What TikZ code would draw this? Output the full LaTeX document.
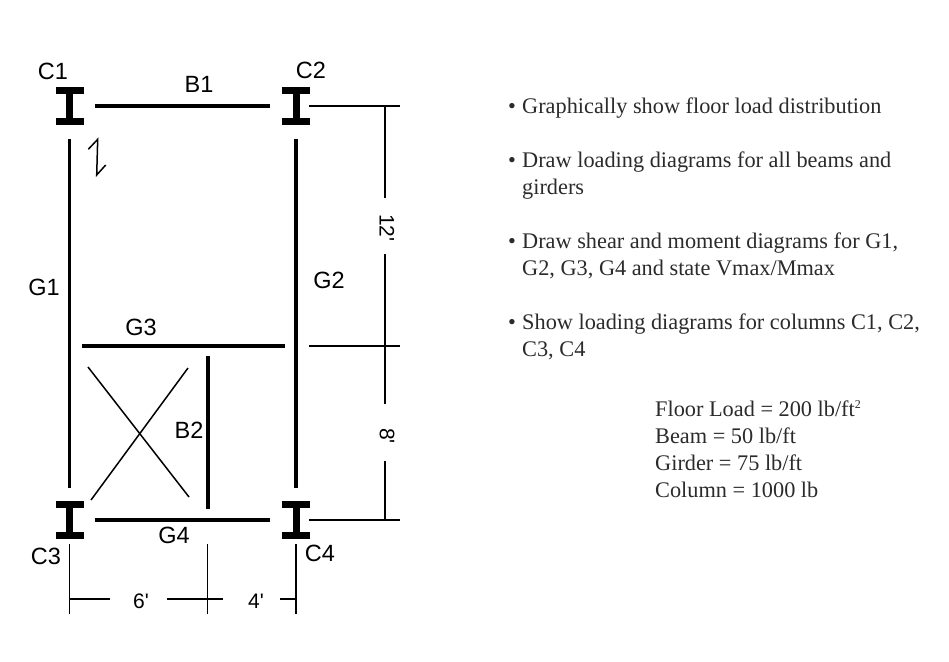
\documentclass[tikz,border=0pt]{standalone}
\usepackage{fontspec}
\setmainfont{Liberation Serif}
\newfontfamily\labelfont{Liberation Sans}
\usepackage{xcolor}
\definecolor{notegray}{HTML}{2B2B2B}
\tikzset{%
	member/.style={line width=3.6pt, black},
	thinline/.style={line width=1.2pt, black},
	planlabel/.style={font=\labelfont\fontsize{23.5}{23.5}\selectfont, inner sep=0pt},
	dimlabel/.style={font=\labelfont\fontsize{21}{21}\selectfont, inner sep=0pt},
	note/.style={
		anchor=base west,
		inner sep=0pt,
		text=notegray,
		font=\fontsize{22.3}{27}\selectfont
	},
	ibeam/.pic={
		\fill[black] (-14,-19) rectangle (14,-12);
		\fill[black] (-14,12) rectangle (14,19);
		\fill[black] (-3.5,-12) rectangle (3.5,12);
	},
}
\begin{document}
\begin{tikzpicture}[x=1pt,y=-1pt]
			\useasboundingbox[fill=white] (0,0) rectangle (949,661);
			
			% Columns
			\coordinate (c1) at (69.5,106);
			\coordinate (c2) at (296,106);
			\coordinate (c3) at (69.5,520);
			\coordinate (c4) at (296,520);
			\pic at (c1) {ibeam};
			\pic at (c2) {ibeam};
			\pic at (c3) {ibeam};
			\pic at (c4) {ibeam};
			
			% Beams and girders
			\draw[member] ([xshift=25]c1) -- ([xshift=-26]c2);
			\draw[member] ([xshift=25]c3) -- ([xshift=-26]c4);
			\draw[member] ([yshift=-33]c1) -- ([yshift=32]c3);
			\draw[member] ([yshift=-33]c2) -- ([yshift=32]c4);
			\coordinate (g3a) at (82,346);
			\coordinate (g3b) at (285,346);
			\draw[member] (g3a) -- (g3b);
			\coordinate (b2a) at (208,356);
			\coordinate (b2b) at (208,509);
			\draw[member] (b2a) -- (b2b);
			
			% Opening
			\draw[thinline, line width=1.5pt] (88,367) -- (189,497);
			\draw[thinline, line width=1.5pt] (188,368) -- (91,500);
			
			% Span direction
			\draw[thinline, line width=1.5pt] (88.3,149.3) -- (97.7,139.3) -- (96.7,175) -- (105.7,165);
			
			% Labels for members
			\node[planlabel] (C1) at (53,71) {C1};
			\node[planlabel] (C2) at (311,70) {C2};
			\node[planlabel] (C3) at (46,556) {C3};
			\node[planlabel] (C4) at (320,553) {C4};
			\node[planlabel] (B1) at (199,84) {B1};
			\node[planlabel] (B2) at (189,430) {B2};
			\node[planlabel] (G1) at (44,287) {G1};
			\node[planlabel] (G2) at (329,280) {G2};
			\node[planlabel] (G3) at (141,327) {G3};
			\node[planlabel] (G4) at (174,535) {G4};
			
			% Right dimension
			\node[dimlabel, rotate=-90] (d12) at (387,228) {12'};
			\node[dimlabel, rotate=-90] (d8) at (387,436) {8'};
			\draw[thinline] ([xshift=13]c2) -- ++(90.5,0);
			\draw[thinline] (309,346) -- (399.5,346);
			\draw[thinline] ([xshift=13]c4) -- ++(90.5,0);
			\draw[thinline] (385,106) -- (385,198);
			\draw[thinline] (385,254) -- (385,404);
			\draw[thinline] (385,461) -- (385,520);
			
			% Bottom dimension
			\node[dimlabel] (d6) at (141,601) {6'};
			\node[dimlabel] (d4) at (256,601) {4'};
			\draw[thinline] ([yshift=-24]c3) -- ++(0,70);
			\draw[thinline] (207.5,544) -- (207.5,614);
			\draw[thinline] ([yshift=-24]c4) -- ++(0,70);
			\draw[thinline] (70,599) -- (110,599);
			\draw[thinline] (167,599) -- (223,599);
			\draw[thinline] (280,599) -- (296,599);
			
			% Notes
			\node[note] (b1) at (508,113) {•};
			\node[note] (n1) at (522,113) {Graphically show floor load distribution};
			\node[note] (b2) at (508,167) {•};
			\node[note] (n2) at (522,167) {Draw loading diagrams for all beams and};
			\node[note] (n2b) at (522,194) {girders};
			\node[note] (b3) at (508,248) {•};
			\node[note] (n3) at (522,248) {Draw shear and moment diagrams for G1,};
			\node[note] (n3b) at (522,275) {G2, G3, G4 and state Vmax/Mmax};
			\node[note] (b4) at (508,329) {•};
			\node[note] (n4) at (522,329) {Show loading diagrams for columns C1, C2,};
			\node[note] (n4b) at (522,356) {C3, C4};
			
			% Loads
			\node[note] (l1) at (655,416) {Floor Load = 200 lb/ft\raisebox{8pt}{\fontsize{12}{12}\selectfont 2}};
			\node[note] (l2) at (655,443) {Beam = 50 lb/ft};
			\node[note] (l3) at (655,470) {Girder = 75 lb/ft};
			\node[note] (l4) at (655,497) {Column = 1000 lb};
		\end{tikzpicture}
\end{document}
